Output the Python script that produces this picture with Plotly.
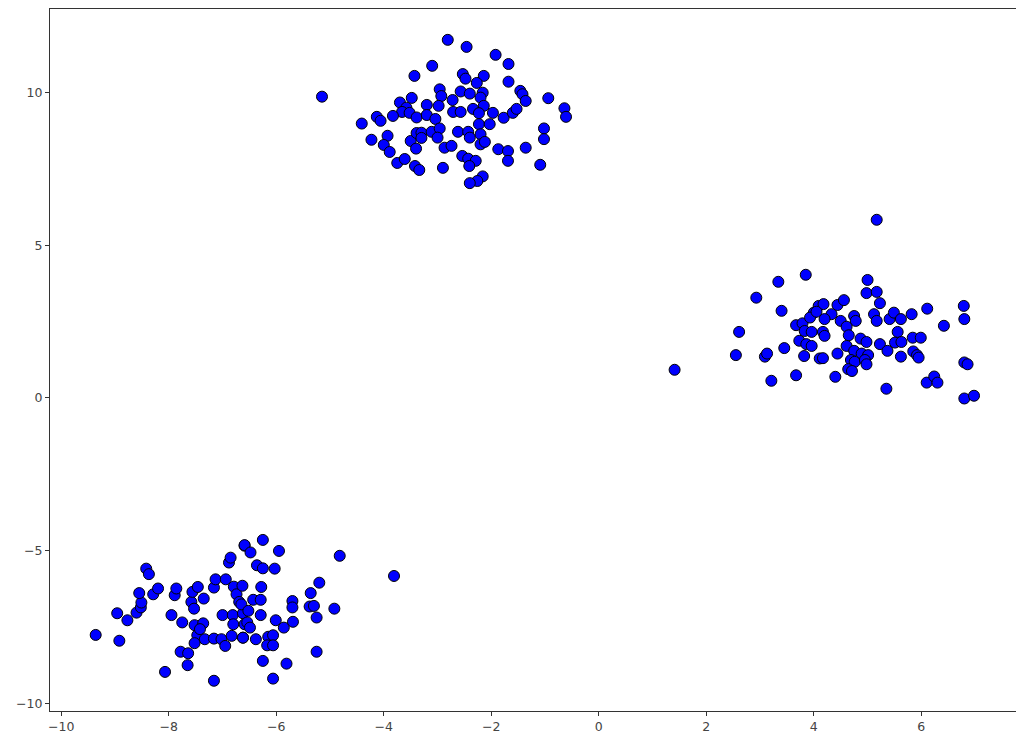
import plotly.graph_objects as go

# Cluster A (top)
xa = [-5.15, -2.81, -3.1, -3.43, -2.96, -2.93, -3.7, -3.48, -3.58, -3.66, -3.52, -3.2, -2.98,
      -3.83, -4.13, -4.06, -4.41, -3.39, -3.2, -3.04, -3.93, -4.23, -4.0, -3.89, -3.5, -3.39,
      -3.3, -3.11, -2.96, -3.3, -3.0, -3.4, -2.87, -3.75, -3.61, -3.42, -3.34, -2.9,
      -2.46, -1.92, -1.68, -2.53, -2.48, -2.14, -1.68, -2.27, -2.57, -2.4, -2.16, -2.2, -2.72,
      -2.14, -2.71, -2.57, -2.34, -2.23, -1.97, -1.77, -1.6, -1.53, -1.46, -1.42, -1.36, -0.94,
      -0.64, -0.61, -2.23, -2.03, -2.62, -2.43, -2.4, -2.2, -2.2, -2.12, -2.74, -1.87, -1.69,
      -1.36, -1.02, -1.02, -1.69, -1.09, -2.54, -2.43, -2.29, -2.41, -2.16, -2.26, -2.4]
ya = [9.86, 11.72, 10.87, 10.54, 10.1, 9.88, 9.67, 9.82, 9.5, 9.36, 9.33, 9.59, 9.56,
      9.23, 9.2, 9.07, 8.98, 9.18, 9.26, 9.13, 8.58, 8.45, 8.28, 8.05, 8.41, 8.67,
      8.68, 8.71, 8.82, 8.51, 8.52, 8.16, 8.19, 7.69, 7.82, 7.59, 7.46, 7.53,
      11.49, 11.23, 10.93, 10.6, 10.45, 10.54, 10.35, 10.31, 10.03, 9.96, 9.99, 9.83, 9.75,
      9.56, 9.36, 9.36, 9.46, 9.32, 9.33, 9.17, 9.33, 9.46, 10.05, 9.94, 9.72, 9.81,
      9.48, 9.2, 8.96, 8.96, 8.71, 8.71, 8.52, 8.63, 8.3, 8.38, 8.25, 8.14, 8.08,
      8.19, 8.82, 8.47, 7.76, 7.63, 7.92, 7.83, 7.76, 7.59, 7.25, 7.1, 7.03]

# Cluster B (right)
xb = [1.41, 2.61, 2.55, 2.93, 3.34, 3.85, 3.4, 3.09, 3.13, 3.45, 3.21, 3.67, 3.67, 3.79,
      3.83, 3.96, 4.0, 3.93, 3.73, 3.86, 3.96, 3.82, 4.09, 4.11,
      5.17, 5.0, 4.98, 5.17, 5.23, 4.18, 4.44, 4.56, 4.05, 4.33, 4.2, 4.5, 4.75, 4.78, 4.61,
      5.12, 5.17, 5.41, 5.49, 5.62, 5.82, 6.11, 6.79, 6.8, 6.42, 5.56, 4.17, 4.2, 4.65, 4.87,
      4.98, 5.23, 5.51, 5.63, 5.84, 5.99, 4.61, 4.75, 4.89, 5.01, 5.37, 5.85, 5.92, 5.95,
      5.62, 4.17, 4.44, 4.69, 4.76, 4.95, 4.98, 4.64, 4.71, 4.4, 5.35, 6.1, 6.24, 6.3,
      6.8, 6.86, 6.8, 6.98]
yb = [0.92, 2.16, 1.4, 3.28, 3.8, 4.03, 2.85, 1.35, 1.45, 1.63, 0.56, 0.74, 2.38, 2.44,
      2.19, 2.16, 2.79, 2.63, 1.87, 1.76, 1.7, 1.37, 3.01, 1.29,
      5.83, 3.86, 3.43, 3.47, 3.1, 3.07, 3.04, 3.2, 2.82, 2.74, 2.58, 2.52, 2.68, 2.52, 2.33,
      2.74, 2.52, 2.58, 2.79, 2.58, 2.74, 2.92, 3.01, 2.58, 2.36, 2.16, 2.16, 2.03, 2.05, 1.94,
      1.83, 1.76, 1.81, 1.83, 1.97, 1.97, 1.7, 1.54, 1.45, 1.4, 1.54, 1.52, 1.4, 1.32,
      1.35, 1.3, 1.45, 1.24, 1.18, 1.24, 1.1, 0.94, 0.88, 0.69, 0.3, 0.5, 0.7, 0.5,
      1.16, 1.1, -0.02, 0.07]

# Cluster C (bottom left)
xc = [-9.36, -8.92, -8.96, -8.77, -8.6, -8.52, -8.51, -8.55, -8.42, -8.37, -8.29, -8.2, -8.07,
      -7.95, -7.89, -7.86, -7.75, -7.78, -7.64, -7.65, -7.58, -7.53, -7.56, -7.46, -7.35, -7.52,
      -7.36, -7.47, -7.42, -7.33, -7.52, -7.16, -7.16, -7.02, -6.95, -7.16, -7.13, -6.94, -6.79,
      -6.74, -6.69, -6.88, -6.85, -7.0, -6.81, -6.8, -6.83, -6.62, -6.59, -6.62, -6.59,
      -6.25, -6.59, -6.48, -5.95, -4.82, -3.81, -6.36, -6.25, -6.03, -6.63, -6.28, -5.2, -5.36,
      -5.7, -5.7, -5.38, -5.3, -4.92, -5.25, -6.43, -6.29, -6.65, -6.52, -6.29, -6.54, -6.49,
      -6.01, -5.86, -5.69, -6.62, -6.38, -6.15, -6.06, -6.17, -6.06, -5.25, -6.25, -5.81, -6.06]
yc = [-7.76, -7.95, -7.05, -7.28, -7.03, -6.86, -6.7, -6.39, -5.59, -5.77, -6.43, -6.24, -8.97,
      -7.11, -6.46, -6.24, -7.35, -8.31, -8.36, -8.75, -6.68, -6.9, -6.35, -6.19, -6.57, -7.44,
      -7.38, -7.77, -7.57, -7.9, -8.03, -9.26, -7.88, -7.9, -8.12, -6.21, -5.94, -5.94, -6.18,
      -6.43, -6.68, -5.39, -5.23, -7.11, -7.11, -7.41, -7.79, -7.85, -4.84, -7.05, -7.41,
      -4.65, -4.82, -5.06, -5.01, -5.17, -5.83, -5.48, -5.58, -5.59, -6.15, -6.19, -6.05, -6.39,
      -6.65, -6.86, -6.83, -6.81, -6.9, -7.19, -6.61, -6.61, -6.76, -6.97, -7.11, -7.35, -7.52,
      -7.28, -7.52, -7.33, -7.85, -7.9, -7.82, -7.77, -8.1, -8.1, -8.31, -8.61, -8.7, -9.19]

x_ticks = [-10, -8, -6, -4, -2, 0, 2, 4, 6]
y_ticks = [-10, -5, 0, 5, 10]

xs = xa + xb + xc
ys = ya + yb + yc

fig = go.Figure(go.Scatter(
    x=xs, y=ys, mode="markers",
    marker=dict(size=11, color="#0000ff", line=dict(color="black", width=1)),
    showlegend=False, cliponaxis=False,
))

axis_common = dict(
    showgrid=False, zeroline=False, showline=True, linecolor="#333", linewidth=1,
    mirror=True, ticks="outside", ticklen=4, tickcolor="#333",
    tickfont=dict(family="DejaVu Sans", size=12.5, color="#444"),
)
fig.update_xaxes(range=[-10.21, 7.78], tickvals=x_ticks, **axis_common)
fig.update_yaxes(range=[-10.25, 12.73], tickvals=y_ticks, **axis_common)

fig.update_layout(
    width=1016, height=740,
    margin=dict(l=42, r=7, t=1, b=37),
    plot_bgcolor="white", paper_bgcolor="white",
)

fig.write_html("out.html")
